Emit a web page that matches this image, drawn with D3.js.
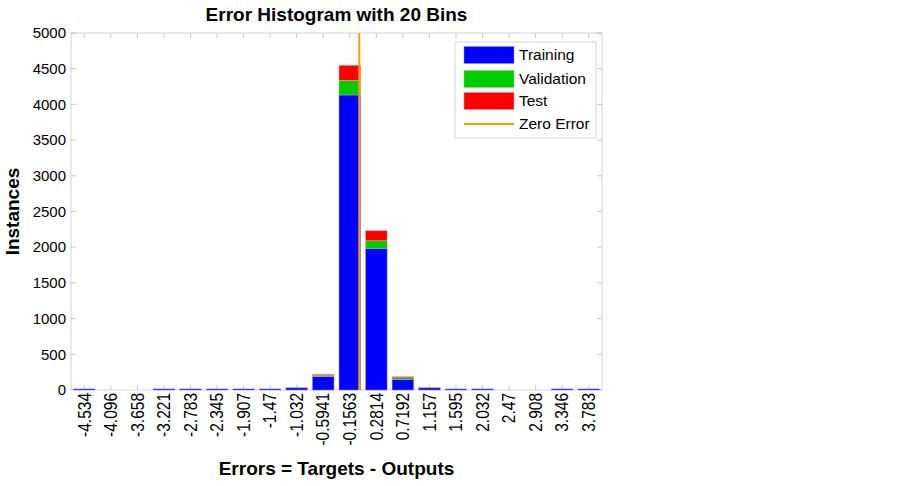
<!DOCTYPE html>
<html>
<head>
<meta charset="utf-8">
<script src="https://cdn.jsdelivr.net/npm/d3@7"></script>
<style>
  body { margin: 0; background: #fff; }
  text { font-family: "Liberation Sans", Arial, sans-serif; fill: #000; }
</style>
</head>
<body>
<svg id="hist" width="899" height="486"></svg>
<script>
// bin centres as printed under the bars
var binLabels = ['-4.534', '-4.096', '-3.658', '-3.221', '-2.783', '-2.345', '-1.907', '-1.47', '-1.032', '-0.5941',
  '-0.1563', '0.2814', '0.7192', '1.157', '1.595', '2.032', '2.47', '2.908', '3.346', '3.783']
var training   = [15, 0, 0, 15, 15, 15, 15, 15, 30, 186, 4132, 1985, 150, 30, 15, 15, 0, 0, 15, 15]
var validation = [0, 0, 0, 0, 0, 0, 0, 0, 2, 19, 205, 105, 22, 2, 0, 0, 0, 0, 0, 0]
var test       = [0, 0, 0, 0, 0, 0, 0, 0, 1, 14, 210, 140, 14, 1, 0, 0, 0, 0, 0, 0]
var yTicks = [0, 500, 1000, 1500, 2000, 2500, 3000, 3500, 4000, 4500, 5000]
var seriesNames = ['Training', 'Validation', 'Test']
var seriesColors = ['#0000ff', '#00cc00', '#ff0000']
var edgeColors = ['#8c8cff', '#7fdc7f', '#ff9a9a']
var zeroError = 0

var svg = d3.select('#hist'),
  pLeft = 71, pRight = 602, pTop = 33, pBottom = 390

var rows = binLabels.map(function(b, i) {
  return { bin: b, Training: training[i], Validation: validation[i], Test: test[i] }
})

var x = d3.scaleBand()
  .domain(binLabels)
  .range([pLeft, pRight])
  .paddingInner(0.19)
  .paddingOuter(0.095)

var y = d3.scaleLinear()
  .domain([0, 5000])
  .range([pBottom, pTop])

// maps error value to pixel using the bin centres
var xVal = d3.scaleLinear()
  .domain([+binLabels[0], +binLabels[binLabels.length - 1]])
  .range([x(binLabels[0]) + x.bandwidth() / 2, x(binLabels[binLabels.length - 1]) + x.bandwidth() / 2])

var color = d3.scaleOrdinal(seriesNames, seriesColors)
var edge = d3.scaleOrdinal(seriesNames, edgeColors)

var stack = d3.stack().keys(seriesNames)(rows)

// plot box
svg.append('rect')
  .attr('x', pLeft).attr('y', pTop)
  .attr('width', pRight - pLeft).attr('height', pBottom - pTop)
  .attr('fill', 'none').attr('stroke', '#d4d4d4').attr('stroke-width', 1)

// inward ticks on all four sides
var tickColor = '#c8c8c8'
svg.append('g').selectAll('line')
  .data(binLabels).enter().append('line')
  .attr('x1', function(d) { return x(d) + x.bandwidth() / 2 })
  .attr('x2', function(d) { return x(d) + x.bandwidth() / 2 })
  .attr('y1', pTop).attr('y2', pTop + 5)
  .attr('stroke', tickColor)
svg.append('g').selectAll('line')
  .data(binLabels).enter().append('line')
  .attr('x1', function(d) { return x(d) + x.bandwidth() / 2 })
  .attr('x2', function(d) { return x(d) + x.bandwidth() / 2 })
  .attr('y1', pBottom).attr('y2', pBottom - 5)
  .attr('stroke', tickColor)
svg.append('g').selectAll('line')
  .data(yTicks).enter().append('line')
  .attr('x1', pRight).attr('x2', pRight - 5)
  .attr('y1', function(d) { return y(d) }).attr('y2', function(d) { return y(d) })
  .attr('stroke', tickColor)
svg.append('g').selectAll('line')
  .data(yTicks).enter().append('line')
  .attr('x1', pLeft).attr('x2', pLeft + 5)
  .attr('y1', function(d) { return y(d) }).attr('y2', function(d) { return y(d) })
  .attr('stroke', tickColor)

// stacked bars
var layer = svg.append('g').selectAll('.layer')
  .data(stack).enter().append('g')
  .attr('class', 'layer')
  .attr('fill', function(d) { return color(d.key) })
  .attr('stroke', function(d) { return edge(d.key) })

layer.selectAll('rect')
  .data(function(d) { return d.filter(function(s) { return s[1] > s[0] }) })
  .enter().append('rect')
  .attr('x', function(d) { return x(d.data.bin) })
  .attr('width', x.bandwidth())
  .attr('y', function(d) { return y(d[1]) })
  .attr('height', function(d) { return y(d[0]) - y(d[1]) })
  .attr('stroke-width', 0.5)

// zero error line
svg.append('line')
  .attr('x1', xVal(zeroError)).attr('x2', xVal(zeroError))
  .attr('y1', pTop).attr('y2', pBottom)
  .attr('stroke', '#ff9900').attr('stroke-width', 2)

// y tick labels
svg.append('g').selectAll('text')
  .data(yTicks).enter().append('text')
  .attr('x', pLeft - 5)
  .attr('y', function(d) { return y(d) })
  .attr('dy', '0.35em')
  .attr('text-anchor', 'end')
  .style('font-size', '15px')
  .text(function(d) { return d })

// x tick labels, rotated
svg.append('g').selectAll('text')
  .data(binLabels).enter().append('text')
  .attr('transform', function(d) {
    return 'translate(' + (x(d) + x.bandwidth() / 2) + ',' + (pBottom + 3) + ') rotate(-90) scale(1,1.15)'
  })
  .attr('dy', '0.35em')
  .attr('text-anchor', 'end')
  .style('font-size', '15.5px')
  .text(function(d) { return d })

// titles
svg.append('text')
  .attr('x', (pLeft + pRight) / 2).attr('y', 21)
  .attr('text-anchor', 'middle')
  .style('font-size', '19px').style('font-weight', 'bold')
  .text('Error Histogram with 20 Bins')

svg.append('text')
  .attr('x', (pLeft + pRight) / 2).attr('y', 475)
  .attr('text-anchor', 'middle')
  .style('font-size', '19px').style('font-weight', 'bold')
  .text('Errors = Targets - Outputs')

svg.append('text')
  .attr('transform', 'translate(19,' + ((pTop + pBottom) / 2) + ') rotate(-90)')
  .attr('text-anchor', 'middle')
  .style('font-size', '19px').style('font-weight', 'bold')
  .text('Instances')

// legend
var lg = svg.append('g').attr('transform', 'translate(455,42)')
lg.append('rect')
  .attr('width', 141).attr('height', 96)
  .attr('fill', '#fff').attr('stroke', '#d4d4d4')

var items = seriesNames.concat(['Zero Error'])
var rowY = [13, 37, 59, 82]
items.forEach(function(name, i) {
  if (i < 3) {
    lg.append('rect')
      .attr('x', 9).attr('y', rowY[i] - 8.5)
      .attr('width', 50).attr('height', 17)
      .attr('fill', seriesColors[i])
      .attr('stroke', edgeColors[i]).attr('stroke-width', 0.5)
  } else {
    lg.append('line')
      .attr('x1', 9).attr('x2', 59)
      .attr('y1', rowY[i]).attr('y2', rowY[i])
      .attr('stroke', '#ff9900').attr('stroke-width', 2)
  }
  lg.append('text')
    .attr('x', 64).attr('y', rowY[i])
    .attr('dy', '0.35em')
    .style('font-size', '15.5px')
    .text(name)
})
</script>
</body>
</html>
